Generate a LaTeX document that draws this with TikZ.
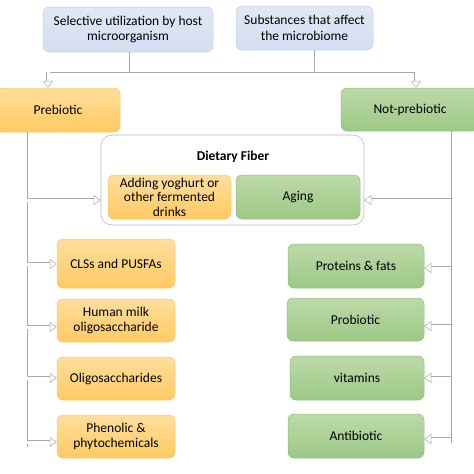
\documentclass[tikz,border=0pt]{standalone}
\usepackage{fontspec}
\setmainfont{Carlito}
\usepackage{tikz}
\usetikzlibrary{arrows.meta}
\definecolor{linegray}{HTML}{A8A8A8}
\definecolor{bluetop}{HTML}{E1E8F5}
\definecolor{bluebot}{HTML}{D3DEF1}
\definecolor{blueline}{HTML}{C3D1EA}
\definecolor{orgtop}{HTML}{FFDE9C}
\definecolor{orgbot}{HTML}{FFCA62}
\definecolor{orgline}{HTML}{F5C66C}
\definecolor{grntop}{HTML}{BCDAA8}
\definecolor{grnbot}{HTML}{9DC886}
\definecolor{grnline}{HTML}{92BF7A}

\begin{document}
\begin{tikzpicture}[x=1pt,y=-1pt,
    every node/.style={font=\fontsize{13.5}{15.5}\selectfont, align=center, inner sep=1pt},
    bluebox/.style={draw=blueline, line width=0.5pt, rounded corners=6pt, top color=bluetop, bottom color=bluebot},
    orgbox/.style={draw=orgline, line width=0.5pt, rounded corners=6pt, top color=orgtop, bottom color=orgbot},
    grnbox/.style={draw=grnline, line width=0.5pt, rounded corners=6pt, top color=grntop, bottom color=grnbot},
    wire/.style={draw=linegray, line width=0.6pt},
    hollow/.style={draw=linegray, line width=0.5pt, double=white, double distance=3pt,
        -{Triangle[open, length=7pt, width=10pt]}}]
    \useasboundingbox (0,0) rectangle (474,474);

    % top row
    \node[bluebox, minimum width=170pt, minimum height=45pt] (sel) at (128,29.5) {Selective utilization by host\\microorganism};
    \node[bluebox, minimum width=137pt, minimum height=44pt] (subs) at (304.5,28) {Substances that affect\\the microbiome};

    % main classes
    \node[orgbox, minimum width=124pt, minimum height=44pt] (pre) at (58,110) {Prebiotic};
    \node[grnbox, minimum width=138pt, minimum height=43pt] (notpre) at (410,109.5) {Not-prebiotic};

    % dietary fiber group
    \node[draw=linegray!80, line width=0.6pt, fill=white, rounded corners=11pt,
          minimum width=263pt, minimum height=90pt] (fiber) at (232.5,180) {};
    \node[font=\fontsize{13.5}{15.5}\selectfont\bfseries] (fibertitle) at (233,157) {Dietary Fiber};
    \node[orgbox, minimum width=123pt, minimum height=44pt, font=\fontsize{13.5}{14.5}\selectfont] (yog) at (169.5,197) {Adding yoghurt or\\other fermented\\drinks};
    \node[grnbox, minimum width=124pt, minimum height=44pt] (aging) at (298,197) {Aging};

    % prebiotic list
    \node[orgbox, minimum width=118pt, minimum height=49pt] (cls) at (116,263.5) {CLSs and PUSFAs};
    \node[orgbox, minimum width=118pt, minimum height=43pt] (hmo) at (116,320.5) {Human milk\\oligosaccharide};
    \node[orgbox, minimum width=118pt, minimum height=43pt] (oligo) at (116,378.5) {Oligosaccharides};
    \node[orgbox, minimum width=118pt, minimum height=43pt] (phen) at (116,436.5) {Phenolic \&\\phytochemicals};

    % not-prebiotic list
    \node[grnbox, minimum width=136pt, minimum height=44pt] (prot) at (356,266) {Proteins \& fats};
    \node[grnbox, minimum width=137pt, minimum height=43pt] (probio) at (355.5,319.5) {Probiotic};
    \node[grnbox, minimum width=134pt, minimum height=44pt] (vit) at (357,378) {vitamins};
    \node[grnbox, minimum width=136pt, minimum height=44pt] (anti) at (356,436) {Antibiotic};

    % top connectors
    \coordinate (jl) at (48,72);
    \coordinate (jr) at (416,72);
    \draw[wire] (sel.south -| 129,0) -- (129,72);
    \draw[wire] (subs.south -| 314,0) -- (314,72);
    \draw[wire] (jl) -- (jr);
    \draw[hollow] (jl) -- (pre.north -| jl);
    \draw[hollow] (jr) -- (notpre.north -| jr);

    % spines
    \coordinate (lend) at (27,447);
    \coordinate (rend) at (451,443);
    \draw[wire] (pre.south -| lend) -- (lend);
    \draw[wire] (notpre.south -| rend) -- (rend);

    % left arrows
    \draw[hollow] (27,200) -- (fiber.west |- 0,200);
    \draw[hollow] (27,264) -- (cls.west |- 0,264);
    \draw[hollow] (27,327) -- (hmo.west |- 0,327);
    \draw[hollow] (27,378) -- (oligo.west |- 0,378);
    \draw[hollow] (27,442) -- (phen.west |- 0,442);

    % right arrows
    \draw[hollow] (451,200) -- (fiber.east |- 0,200);
    \draw[hollow] (451,268) -- (prot.east |- 0,268);
    \draw[hollow] (451,326) -- (probio.east |- 0,326);
    \draw[hollow] (451,378) -- (vit.east |- 0,378);
    \draw[hollow] (451,439) -- (anti.east |- 0,439);
\end{tikzpicture}
\end{document}
